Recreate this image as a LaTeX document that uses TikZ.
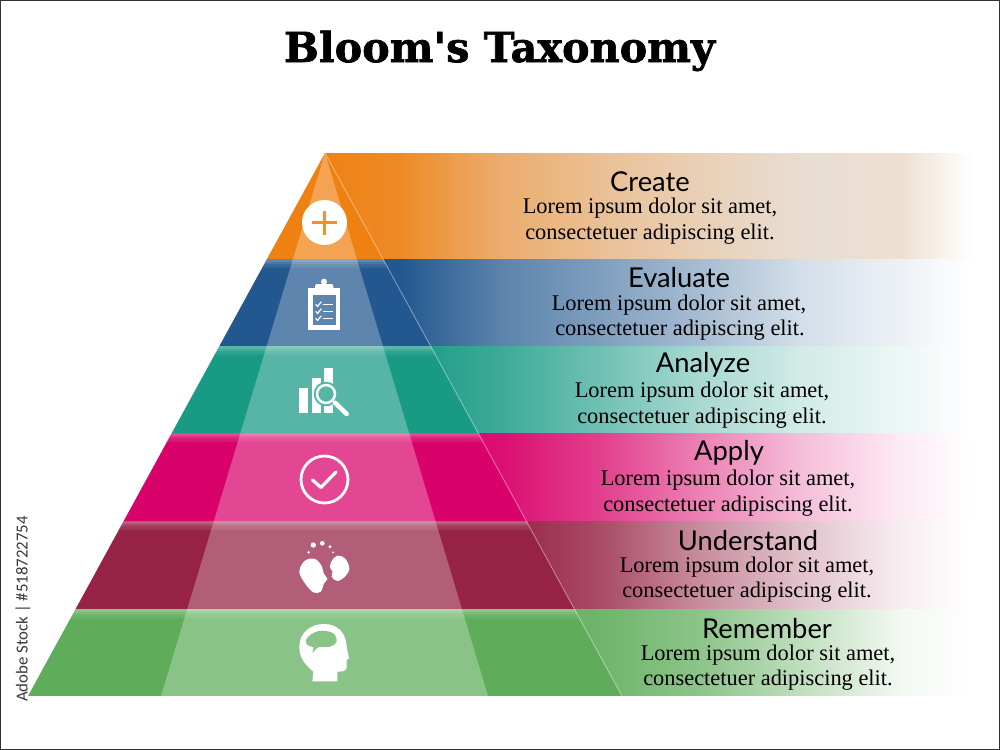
\documentclass[tikz,border=0pt]{standalone}
\usepackage{fontspec}
\setmainfont{Liberation Serif}
\newfontfamily\headfont{Lato}
\newfontfamily\titlefont{DejaVu Serif}[BoldFont={DejaVu Serif Bold},BoldFeatures={FakeBold=1.6}]
\newfontfamily\stockfont{Carlito}
\definecolor{cOrange}{HTML}{EF8113}
\definecolor{cBlue}{HTML}{22588F}
\definecolor{cTeal}{HTML}{189A85}
\definecolor{cPink}{HTML}{D9026A}
\definecolor{cMaroon}{HTML}{962346}
\definecolor{cGreen}{HTML}{5FAD5B}
\definecolor{tWarm}{HTML}{E8E1DA}
% name, colour, tint, then strengths at x = 400, 500, 600, 700, 800
\newcommand{\bandshade}[8]{\pgfdeclarehorizontalshading{#1}{100bp}{color(0bp)=(#2); color(25bp)=(#2); color(30.7bp)=(#2!#4!#3); color(38.3bp)=(#2!#5!#3); color(45.8bp)=(#2!#6!#3); color(53.4bp)=(#2!#7!#3); color(61bp)=(#2!#8!#3); color(68.6bp)=(#2!10!#3!80!white); color(74bp)=(white); color(100bp)=(white)}}
\bandshade{sOrange}{cOrange}{tWarm}{90}{55}{35}{18}{4}
\bandshade{sBlue}{cBlue}{white}{100}{74}{58}{40}{20}
\bandshade{sTeal}{cTeal}{white}{100}{84}{62}{38}{20}
\bandshade{sPink}{cPink}{white}{100}{95}{76}{50}{26}
\bandshade{sMaroon}{cMaroon}{white}{100}{100}{82}{52}{28}
\bandshade{sGreen}{cGreen}{white}{100}{100}{90}{72}{40}
\tikzset{
  x=0.75pt,y=-0.75pt,
  headtext/.style={font=\headfont\fontsize{20.5}{22}\selectfont,text=black,inner sep=0pt,anchor=base},
  bodytext/.style={font=\fontsize{16.8}{18}\selectfont,text=black,inner sep=0pt,anchor=base},
}
\newcommand{\band}[8]{%
  % #1 colour #2 shading #3 y0 #4 y1 #5 left-top #6 left-bot #7 right-top #8 right-bot
  \fill[#1] (#5,#3) -- (#6,#4) -- (#8,#4) -- (#7,#3) -- cycle;
  \begin{scope}
    \clip (#7,#3) -- (#8,#4) -- (985,#4) -- (985,#3) -- cycle;
    \shade[shading=#2] (325,#3) rectangle (985,#4);
  \end{scope}
}
\begin{document}
\begin{tikzpicture}
\useasboundingbox (0,0) rectangle (1000,750);
\fill[white] (0,0) rectangle (1000,750);

\band{cOrange}{sOrange}{153}{259}{325}{267}{325}{383}
\band{cBlue}{sBlue}{259}{346}{267}{219.4}{383}{430.6}
\band{cTeal}{sTeal}{346}{433}{219.4}{171.8}{430.6}{478.2}
\band{cPink}{sPink}{433}{521}{171.8}{123.7}{478.2}{526.3}
\band{cMaroon}{sMaroon}{521}{609}{123.7}{75.6}{526.3}{574.4}
\band{cGreen}{sGreen}{609}{696}{75.6}{28}{574.4}{622}

% top highlights of the bands
\begin{scope}
  \clip (325,153) -- (28,696) -- (622,696) -- cycle;
  \foreach \ty in {259,346,433,521,609}{
    \fill[white,opacity=.28] (0,\ty) rectangle (700,\ty+2.5);
    \fill[white,opacity=.18] (0,\ty+2.5) rectangle (700,\ty+5);
    \fill[white,opacity=.10] (0,\ty+5) rectangle (700,\ty+7.5);
    \fill[white,opacity=.04] (0,\ty+7.5) rectangle (700,\ty+10);
  }
\end{scope}

% central light wedge and right edge line
\fill[white,opacity=.27] (325,153) -- (161,696) -- (488,696) -- cycle;
\draw[white,opacity=.3,line width=.8pt] (325,153) -- (622,696);
\draw[white,opacity=.7,line width=.7pt] (28,696.5) -- (985,696.5);

% Create icon
\fill[white] (324.5,222.5) circle[radius=22.5];
\draw[cOrange!88!white,line width=2pt] (312,222.5) -- (337,222.5) (324.5,210.5) -- (324.5,235);

% Evaluate icon
\begin{scope}[shift={(250,140)},x=.25pt,y=-.25pt]
  \fill[white] (175,445) rectangle (270,569);
  \fill[white,rounded corners=1.5pt] (195,432) rectangle (250,452);
  \fill[white] (222,425) circle[radius=9];
  \fill[cBlue!73!white] (189,464) rectangle (257,556);
  \foreach \cy in {494,515,536}{
    \draw[white,line width=.9pt] (218,\cy) -- (249,\cy);
    \draw[white,line width=.9pt] (197,\cy-1) -- (203,\cy+5) -- (214,\cy-9);
  }
\end{scope}

% Analyze icon
\begin{scope}[shift={(250,140)},x=.25pt,y=-.25pt]
  \fill[white] (148,745) rectangle (175,820);
  \fill[white] (187,715) rectangle (213,820);
  \fill[white] (222,683) rectangle (250,820);
  \fill[cTeal!73!white] (228,762) circle[radius=37];
  \draw[white,line width=3.4pt,line cap=round] (255,788) -- (290,822);
  \draw[white,line width=1.9pt] (228,762) circle[radius=27];
\end{scope}

% Apply icon
\draw[white,line width=2.1pt] (324.5,479.5) circle[radius=23.5];
\draw[white,line width=2.4pt,line cap=round,line join=round] (312.5,480) -- (321,487.5) -- (336,472);

% Understand icon
\begin{scope}[shift={(250,430)},x=.25pt,y=-.25pt]
  \fill[white] plot[smooth cycle,tension=.6] coordinates {(148,425) (165,392) (195,387) (215,408) (221,430) (232,447) (222,460) (212,485) (190,487) (165,460)};
  \fill[white] plot[smooth cycle,tension=.6] coordinates {(298,415) (285,385) (262,377) (245,393) (240,413) (248,425) (245,440) (262,453) (285,440)};
  \fill[white] (190,345) circle[radius=8];
  \fill[white] (217,340) circle[radius=7];
  \fill[white] (240,350) circle[radius=5];
  \fill[white] (176,367) circle[radius=4];
  \fill[white] (249,367) circle[radius=3];
\end{scope}

% Remember icon
\begin{scope}[shift={(250,430)},x=.25pt,y=-.25pt]
  \fill[white] (187,754) -- (190,725) .. controls (160,700) and (148,680) .. (148,650) .. controls (148,610) and (180,582) .. (222,582) .. controls (265,582) and (288,610) .. (290,650) -- (297,685) -- (290,690) -- (290,715) .. controls (285,725) and (272,725) .. (262,725) -- (262,754) -- cycle;
  \fill[cGreen!73!white] plot[smooth cycle,tension=.6] coordinates {(168,630) (185,612) (215,602) (250,610) (260,635) (240,650) (205,652) (188,668) (190,652) (172,645)};
\end{scope}

% Texts
\node[font=\titlefont\bfseries\fontsize{31}{33}\selectfont,inner sep=0pt,anchor=base] (title) at (499.5,62) {Bloom's Taxonomy};

\node[headtext] (h1) at (650,191) {Create};
\node[bodytext] (a1) at (650,213) {Lorem ipsum dolor sit amet,};
\node[bodytext] (b1) at (650,239) {consectetuer adipiscing elit.};
\node[headtext] (h2) at (679,287) {Evaluate};
\node[bodytext] (a2) at (679,310) {Lorem ipsum dolor sit amet,};
\node[bodytext] (b2) at (680,335) {consectetuer adipiscing elit.};
\node[headtext] (h3) at (703,372) {Analyze};
\node[bodytext] (a3) at (702,397) {Lorem ipsum dolor sit amet,};
\node[bodytext] (b3) at (702,423) {consectetuer adipiscing elit.};
\node[headtext] (h4) at (729,460) {Apply};
\node[bodytext] (a4) at (728,485) {Lorem ipsum dolor sit amet,};
\node[bodytext] (b4) at (728,511) {consectetuer adipiscing elit.};
\node[headtext] (h5) at (748,550) {Understand};
\node[bodytext] (a5) at (747,572) {Lorem ipsum dolor sit amet,};
\node[bodytext] (b5) at (747,597) {consectetuer adipiscing elit.};
\node[headtext] (h6) at (767,638) {Remember};
\node[bodytext] (a6) at (768,660) {Lorem ipsum dolor sit amet,};
\node[bodytext] (b6) at (768,685) {consectetuer adipiscing elit.};

\node[font=\stockfont\fontsize{12.6}{14}\selectfont,text=black!78,rotate=90,inner sep=0pt] (stock) at (23,609) {Adobe Stock | \#518722754};

% frame
\draw[black!80,line width=1.1pt] (0.7,0.7) rectangle (999.3,749.3);
\end{tikzpicture}
\end{document}
